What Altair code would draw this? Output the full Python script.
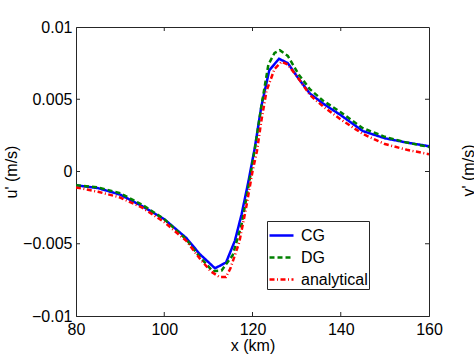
import altair as alt
import pandas as pd

# ---- data ----
cg_x = [80, 85, 90, 95, 100, 105, 108, 111.5, 114, 116, 117.5, 119, 120.5, 122, 123.8, 126, 128, 130.5, 133, 136, 140, 145, 150, 155, 160]
cg_y = [-0.00095, -0.00115, -0.0016, -0.0024, -0.0033, -0.0046, -0.0057, -0.0067, -0.0063, -0.0048, -0.0030, -0.0008, 0.0016, 0.0045, 0.0070, 0.0078, 0.0075, 0.0064, 0.0054, 0.0047, 0.0039, 0.0028, 0.0023, 0.0020, 0.00175]

dg_x = [80, 85, 90, 95, 100, 105, 108, 111, 113, 115.5, 117.5, 119, 120.5, 122, 123.6, 125, 126.2, 128, 130.5, 133, 136, 140, 145, 150, 155, 160]
dg_y = [-0.00095, -0.0011, -0.0015, -0.0023, -0.0033, -0.0047, -0.0059, -0.0069, -0.00685, -0.0058, -0.0037, -0.0012, 0.0015, 0.0045, 0.0074, 0.0082, 0.0084, 0.0080, 0.0067, 0.0057, 0.0049, 0.0041, 0.0030, 0.0024, 0.0020, 0.0017]

an_x = [80, 85, 90, 95, 100, 105, 108, 110.5, 112.5, 114, 115, 117, 118.5, 120, 121, 122, 123.2, 125, 126.6, 128, 130.5, 133, 136, 140, 145, 150, 155, 160]
an_y = [-0.0011, -0.0014, -0.0018, -0.0025, -0.0035, -0.0048, -0.0060, -0.0069, -0.0073, -0.0073, -0.0067, -0.0049, -0.0026, 0.0000, 0.0014, 0.0035, 0.0056, 0.0071, 0.0076, 0.0074, 0.0064, 0.0053, 0.0045, 0.0036, 0.0026, 0.0019, 0.0015, 0.0012]

series_names = ["CG", "DG", "analytical"]
series_colors = ["#0000ff", "#008000", "#ff0000"]
series_dash = [[1, 0], [5, 3], [5, 2.5, 1, 2.5]]

x_ticks = [80, 100, 120, 140, 160]
y_ticks = [-0.01, -0.005, 0, 0.005, 0.01]

rows = []
for name, xs, ys in [("CG", cg_x, cg_y), ("DG", dg_x, dg_y), ("analytical", an_x, an_y)]:
    for i, (a, b) in enumerate(zip(xs, ys)):
        rows.append({"series": name, "x": a, "u": b, "order": i})
df = pd.DataFrame(rows)

W, H = 353, 289
FONT = "Liberation Sans"

xscale = alt.Scale(domain=[80, 160], nice=False, zero=False)
yscale = alt.Scale(domain=[-0.01, 0.01], nice=False, zero=False)

leg = alt.Legend(title=None, orient="none", legendX=191, legendY=194)

lines = alt.Chart(df).mark_line(strokeWidth=2.5, clip=True).encode(
    x=alt.X("x:Q", scale=xscale,
            axis=alt.Axis(title="x (km)", values=x_ticks, ticks=False, labelPadding=5,
                          labelFlush=False, titlePadding=0, grid=False)),
    y=alt.Y("u:Q", scale=yscale,
            axis=alt.Axis(title="u' (m/s)", values=y_ticks, format="~g", ticks=False,
                          labelFlush=False, labelPadding=4, titlePadding=3, grid=False)),
    color=alt.Color("series:N", scale=alt.Scale(domain=series_names, range=series_colors),
                    legend=leg),
    strokeDash=alt.StrokeDash("series:N", scale=alt.Scale(domain=series_names, range=series_dash),
                              legend=leg),
    order="order:Q",
)

xt = pd.DataFrame({"t": x_ticks[1:-1]})
yt = pd.DataFrame({"t": y_ticks[1:-1]})
tick_color = "#262626"
xb = alt.Chart(xt).mark_rule(color=tick_color, strokeWidth=1).encode(
    x=alt.X("t:Q", scale=xscale), y=alt.value(H), y2=alt.value(H - 4))
xtp = alt.Chart(xt).mark_rule(color=tick_color, strokeWidth=1).encode(
    x=alt.X("t:Q", scale=xscale), y=alt.value(0), y2=alt.value(4))
yl = alt.Chart(yt).mark_rule(color=tick_color, strokeWidth=1).encode(
    y=alt.Y("t:Q", scale=yscale), x=alt.value(0), x2=alt.value(4))
yr = alt.Chart(yt).mark_rule(color=tick_color, strokeWidth=1).encode(
    y=alt.Y("t:Q", scale=yscale), x=alt.value(W), x2=alt.value(W - 4))

side = alt.Chart(pd.DataFrame({"label": ["v' (m/s)"]})).mark_text(
    angle=270, align="center", baseline="alphabetic", fontSize=16, font=FONT, color="black"
).encode(text="label:N", x=alt.value(398), y=alt.value(143.5))

chart = alt.layer(lines, xb, xtp, yl, yr, side).properties(
    width=W, height=H,
    padding={"left": 76, "top": 27, "right": 45, "bottom": 39},
    autosize=alt.AutoSizeParams(type="none"),
).configure_view(stroke=tick_color, strokeWidth=1).configure_axis(
    labelFont=FONT, titleFont=FONT, labelFontSize=16, titleFontSize=16,
    titleFontWeight="normal", labelColor="black", titleColor="black",
    domainColor=tick_color, domainWidth=1,
).configure_legend(
    labelFont=FONT, labelFontSize=16, labelColor="black",
    strokeColor=tick_color, fillColor="white", padding=1, rowPadding=0,
    symbolType="stroke", symbolStrokeWidth=2.5, symbolSize=576, labelOffset=6,
)

chart.save("out.html", embed_options={"renderer": "svg", "actions": False})
